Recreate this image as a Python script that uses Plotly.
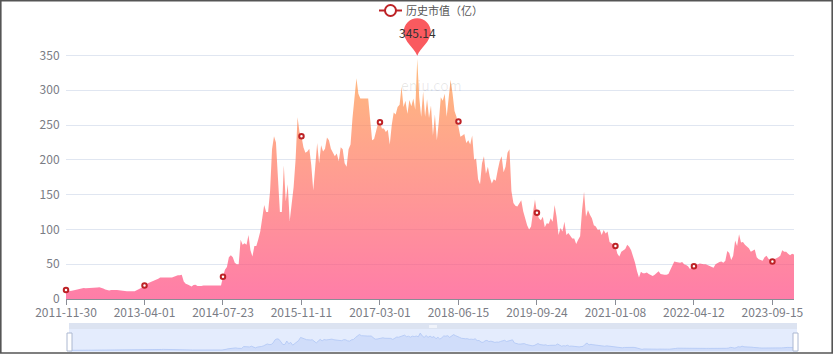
import plotly.graph_objects as go

tick_labels = ["2011-11-30", "2013-04-01", "2014-07-23", "2015-11-11", "2017-03-01",
               "2018-06-15", "2019-09-24", "2021-01-08", "2022-04-12", "2023-09-15"]

seg0 = [13,12,11.5,11.8,12.5,13,14,15,16,15.8, 15.5,15.5,16,16,16,16.2,16.5,16.8,16.3,15,
        13.5,12.5,12.3,12.8,13,13.5,12.8,12.5,12.5,12, 11.5,11,10.8,10.5,10.8,11,12.5,14.5,15.5,17]
seg1 = [19.5,21,23,24,25,26,27,29,31,31, 30.5,30,30,30.5,31,32,33.5,34,34,35,
        25,22,21,19,18,20,20.5,18.5,18,18.5, 19.5,19.5,19.5,19.5,19.5,19.5,19.5,19.5,19.5,19.5]
seg2 = [32,42,46,60,63,60,52,50,50,85, 78,80,78,92,70,61,76,76,86,97,
        116,135,125,125,155,215,234,225,175,125, 125,192,140,165,112,137,161,200,261,240]
seg3 = [234,218,210,212,216,192,156,190,224,195, 221,212,216,232,228,216,210,205,209,198,
        218,215,195,190,215,222,260,295,317,295, 288,288,288,288,288,258,228,230,243,252]
seg4 = [254,245,245,240,243,222,250,268,265,276, 279,305,276,285,266,286,277,288,272,345.14,
        290,262,298,262,287,260,278,235,265,228, 255,290,285,295,262,290,315,295,270,262]
seg5 = [245,233,235,237,224,228,222,235,200,202, 172,165,195,205,180,190,175,166,172,170,
        185,198,205,182,190,210,215,155,138,134, 133,137,142,126,115,106,100,104,125,143]
seg6 = [124,116,113,118,103,109,108,116,111,135, 118,92,102,97,111,92,95,90,87,87,
        79,85,90,128,154,118,128,121,116,106, 104,99,100,92,99,94,97,82,80,78]
seg7 = [76,65,61,68,70,72,78,75,70,62, 52,40,31,39,37,37,38,36,35,33,
        35,37,40,36,35,35,35,36,42,48, 54,53,52,52,53,50,49,47,43,46]
seg8 = [47,49,50,51,50,50,50,49,48,46, 45,50,52,53,54,52,55,69,66,56,
        62,84,76,93,81,82,78,75,73,68, 70,71,60,57,56,55,60,62,58,56]
seg9 = [54,57,58,60,62,70,68,68,65,63,65,64]

values = seg0 + seg1 + seg2 + seg3 + seg4 + seg5 + seg6 + seg7 + seg8 + seg9
assert len(values) == 372, len(values)
index = list(range(len(values)))
tick_index = [i * 40 for i in range(len(tick_labels))]
marker_values = [13, 19.5, 32, 234, 254, 255, 124, 76, 47, 54]
y_ticks = [0, 50, 100, 150, 200, 250, 300, 350]
peak_value = 345.14
peak_index = values.index(peak_value)
series_name = "历史市值（亿）"

W, H = 833, 354
L, R, T, B = 66, 797, 0, 352
def px(v): return (v - L) / (R - L)
def py(v): return (B - v) / (B - T)

FONT = "Noto Sans CJK SC, Noto Sans, sans-serif"
RED = "#bd2226"

fig = go.Figure()
fig.add_trace(go.Scatter(x=index, y=values, mode="lines", line=dict(width=0), fill="tozeroy",
                         fillgradient=dict(type="vertical",
                                           colorscale=[[0, "rgba(255,70,131,0.7)"], [1, "rgba(255,158,68,0.7)"]]),
                         showlegend=False, hoverinfo="skip", xaxis="x", yaxis="y"))
fig.add_trace(go.Scatter(x=tick_index, y=marker_values, mode="markers", cliponaxis=False,
                         marker=dict(symbol="circle", size=4.5, color="white", line=dict(color=RED, width=2)),
                         showlegend=False, hoverinfo="skip", xaxis="x", yaxis="y"))
# overview strip
fig.add_trace(go.Scatter(x=index, y=values, mode="lines", fill="tozeroy",
                         line=dict(color="rgb(176,198,245)", width=0.8), fillcolor="rgb(208,221,250)",
                         showlegend=False, hoverinfo="skip", xaxis="x2", yaxis="y2"))

shapes = [
    dict(type="rect", xref="paper", yref="paper", x0=px(69), x1=px(797), y0=py(352), y1=py(329),
         fillcolor="rgb(228,236,253)", line_width=0, layer="below"),
    dict(type="rect", xref="paper", yref="paper", x0=px(69), x1=px(797), y0=py(329), y1=py(323),
         fillcolor="rgb(220,227,241)", line_width=0, layer="below"),
    dict(type="rect", xref="paper", yref="paper", x0=px(429), x1=px(437), y0=py(328), y1=py(325),
         fillcolor="rgb(240,243,250)", line_width=0),
    dict(type="rect", xref="paper", yref="paper", x0=px(67), x1=px(72), y0=py(351), y1=py(333),
         fillcolor="white", line=dict(color="rgb(172,184,209)", width=1)),
    dict(type="rect", xref="paper", yref="paper", x0=px(793), x1=px(798), y0=py(351), y1=py(333),
         fillcolor="white", line=dict(color="rgb(172,184,209)", width=1)),
    dict(type="rect", xref="paper", yref="paper", x0=px(0.8), x1=px(832.2), y0=py(353), y1=py(0.8),
         fillcolor="rgba(0,0,0,0)", line=dict(color="#555555", width=1.6)),
    # legend key
    dict(type="line", xref="paper", yref="paper", x0=px(379), x1=px(402), y0=py(10.5), y1=py(10.5),
         line=dict(color=RED, width=2)),
    dict(type="circle", xref="paper", yref="paper", x0=px(385), x1=px(396), y0=py(16), y1=py(5),
         fillcolor="white", line=dict(color=RED, width=2)),
    # map pin anchored on the peak value
    dict(type="path", xref="x", yref="y", xsizemode="pixel", ysizemode="pixel",
         xanchor=peak_index, yanchor=peak_value,
         path="M 0 3 C -3 11 -13.5 17 -13.5 27 C -13.5 34.5 -7.5 40.5 0 40.5 "
              "C 7.5 40.5 13.5 34.5 13.5 27 C 13.5 17 3 11 0 3 Z",
         fillcolor="rgb(250,90,95)", line_width=0),
]

annotations = [
    dict(x=peak_index, y=peak_value, xref="x", yref="y", text="345.14", showarrow=False,
         yshift=26, font=dict(family=FONT, size=12, color="#333333")),
    dict(x=px(431), y=py(73), xref="paper", yref="paper", text="eniu.com", showarrow=False,
         font=dict(family=FONT, size=14, color="rgba(0,0,0,0.09)")),
    dict(x=px(404), y=py(10), xref="paper", yref="paper", text=series_name, showarrow=False,
         xanchor="left", yanchor="middle",
         font=dict(family=FONT, size=11, color="#555555")),
]

fig.update_layout(
    width=W, height=H, autosize=False, showlegend=False,
    margin=dict(l=L, r=W - R, t=T, b=H - B, pad=0, autoexpand=False),
    paper_bgcolor="white", plot_bgcolor="white",
    font=dict(family=FONT, size=12, color="#7a7c85"),
    hovermode=False,
    xaxis=dict(domain=[0, px(794)], range=[0, len(values) - 1], tickmode="array",
               tickvals=tick_index, ticktext=tick_labels, showgrid=False, zeroline=False,
               showline=True, linecolor="#8a8d96", linewidth=1,
               ticks="outside", ticklen=5, tickcolor="#8a8d96", tickwidth=1,
               ticklabelstandoff=-2, tickangle=0, anchor="y"),
    yaxis=dict(domain=[py(299), 1], range=[0, (299 - T) / 0.696], tickmode="array",
               tickvals=y_ticks, showgrid=True, gridcolor="#E0E6F1", gridwidth=1,
               zeroline=False, showline=False, ticks="outside", ticklen=3,
               tickcolor="rgba(0,0,0,0)", anchor="x"),
    xaxis2=dict(domain=[px(69), 1], range=[0, len(values) - 1], visible=False, anchor="y2"),
    yaxis2=dict(domain=[py(351), py(329)], range=[0, 423], visible=False, anchor="x2"),
    shapes=shapes, annotations=annotations,
)

fig.write_html("out.html", config={"displayModeBar": False},
               post_script="document.body.style.margin='0';document.body.style.overflow='hidden';")
